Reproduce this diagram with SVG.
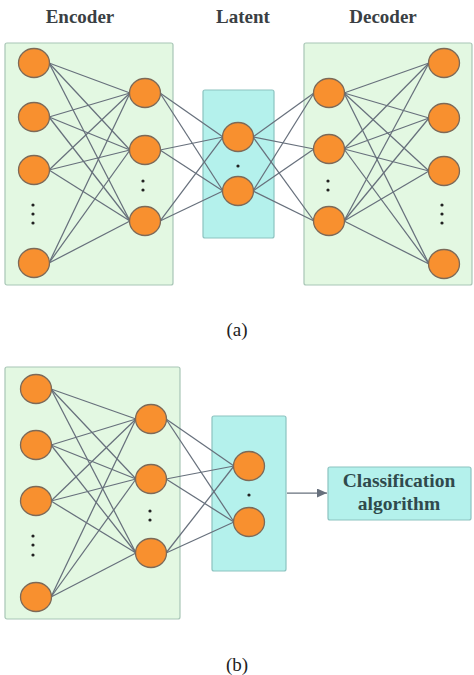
<svg xmlns="http://www.w3.org/2000/svg" width="474" height="675" viewBox="0 0 474 675">
<style>
.bg{fill:#ffffff}
.enc{fill:#e3f8e2;stroke:#a8c6b6;stroke-width:1.2}
.lat{fill:#b4f1ec;stroke:#8cc3c0;stroke-width:1.2}
.n{fill:#f8902f;stroke:#7d6a58;stroke-width:1.3}
.e line{stroke:#67707c;stroke-width:1.25}
.d{fill:#222}
.t{font-family:"Liberation Serif",serif;font-weight:bold;font-size:19px;fill:#3a3f44;text-anchor:middle}
.c{font-family:"Liberation Serif",serif;font-size:19px;fill:#222;text-anchor:middle}
.ct{font-family:"Liberation Serif",serif;font-weight:bold;font-size:19.5px;fill:#2f4a4c;text-anchor:middle}
</style>
<defs>
<marker id="ah" markerWidth="12" markerHeight="10" refX="10" refY="4.5" orient="auto" markerUnits="userSpaceOnUse">
<path d="M0,0 L10,4.5 L0,9 Z" fill="#67707c"/>
</marker>
</defs>
<rect class="bg" x="0" y="0" width="474" height="675"/>

<text class="t" x="80" y="23">Encoder</text>
<text class="t" x="243" y="23">Latent</text>
<text class="t" x="383" y="23">Decoder</text>

<g id="box-enc-a"><rect class="enc" x="5" y="43" width="168" height="242" rx="2"/></g>
<g id="box-lat-a"><rect class="lat" x="203" y="90" width="71" height="148" rx="2"/></g>
<g id="box-dec-a"><rect class="enc" x="304" y="43" width="168" height="242" rx="2"/></g>
<g id="box-enc-b"><rect class="enc" x="5" y="367" width="175" height="252" rx="2"/></g>
<g id="box-lat-b"><rect class="lat" x="212" y="416" width="74" height="155" rx="2"/></g>

<g id="connectors" class="e">
<line x1="49" y1="63" x2="130" y2="93"/><line x1="49" y1="63" x2="130" y2="150"/><line x1="49" y1="63" x2="130" y2="221"/>
<line x1="49" y1="117" x2="130" y2="93"/><line x1="49" y1="117" x2="130" y2="150"/><line x1="49" y1="117" x2="130" y2="221"/>
<line x1="49" y1="170" x2="130" y2="93"/><line x1="49" y1="170" x2="130" y2="150"/><line x1="49" y1="170" x2="130" y2="221"/>
<line x1="49" y1="263" x2="130" y2="93"/><line x1="49" y1="263" x2="130" y2="150"/><line x1="49" y1="263" x2="130" y2="221"/>
<line x1="160" y1="93" x2="223" y2="137"/><line x1="160" y1="93" x2="223" y2="191"/>
<line x1="160" y1="150" x2="223" y2="137"/><line x1="160" y1="150" x2="223" y2="191"/>
<line x1="160" y1="221" x2="223" y2="137"/><line x1="160" y1="221" x2="223" y2="191"/>
<line x1="253" y1="137" x2="314" y2="93"/><line x1="253" y1="137" x2="314" y2="149"/><line x1="253" y1="137" x2="314" y2="221"/>
<line x1="253" y1="191" x2="314" y2="93"/><line x1="253" y1="191" x2="314" y2="149"/><line x1="253" y1="191" x2="314" y2="221"/>
<line x1="344" y1="93" x2="429" y2="63"/><line x1="344" y1="93" x2="429" y2="118"/><line x1="344" y1="93" x2="429" y2="171"/><line x1="344" y1="93" x2="429" y2="264"/>
<line x1="344" y1="149" x2="429" y2="63"/><line x1="344" y1="149" x2="429" y2="118"/><line x1="344" y1="149" x2="429" y2="171"/><line x1="344" y1="149" x2="429" y2="264"/>
<line x1="344" y1="221" x2="429" y2="63"/><line x1="344" y1="221" x2="429" y2="118"/><line x1="344" y1="221" x2="429" y2="171"/><line x1="344" y1="221" x2="429" y2="264"/>
<line x1="51" y1="389" x2="136" y2="419"/><line x1="51" y1="389" x2="136" y2="479"/><line x1="51" y1="389" x2="136" y2="553"/>
<line x1="51" y1="445" x2="136" y2="419"/><line x1="51" y1="445" x2="136" y2="479"/><line x1="51" y1="445" x2="136" y2="553"/>
<line x1="51" y1="501" x2="136" y2="419"/><line x1="51" y1="501" x2="136" y2="479"/><line x1="51" y1="501" x2="136" y2="553"/>
<line x1="51" y1="597" x2="136" y2="419"/><line x1="51" y1="597" x2="136" y2="479"/><line x1="51" y1="597" x2="136" y2="553"/>
<line x1="166" y1="419" x2="234" y2="466"/><line x1="166" y1="419" x2="234" y2="522"/>
<line x1="166" y1="479" x2="234" y2="466"/><line x1="166" y1="479" x2="234" y2="522"/>
<line x1="166" y1="553" x2="234" y2="466"/><line x1="166" y1="553" x2="234" y2="522"/>
<line x1="287" y1="493" x2="327" y2="493" stroke-width="2" marker-end="url(#ah)"/>
</g>

<g id="enc-a-in">
<ellipse class="n" cx="34" cy="63" rx="15.5" ry="14.5"/>
<ellipse class="n" cx="34" cy="117" rx="15.5" ry="14.5"/>
<ellipse class="n" cx="34" cy="170" rx="15.5" ry="14.5"/>
<ellipse class="n" cx="34" cy="263" rx="15.5" ry="14.5"/>
<circle class="d" cx="33" cy="205" r="1.6"/><circle class="d" cx="33" cy="214" r="1.6"/><circle class="d" cx="33" cy="223" r="1.6"/>
</g>
<g id="enc-a-hid">
<ellipse class="n" cx="145" cy="93" rx="15.5" ry="14.5"/>
<ellipse class="n" cx="145" cy="150" rx="15.5" ry="14.5"/>
<ellipse class="n" cx="145" cy="221" rx="15.5" ry="14.5"/>
<circle class="d" cx="143" cy="181" r="1.6"/><circle class="d" cx="143" cy="190" r="1.6"/>
</g>
<g id="lat-a">
<ellipse class="n" cx="238" cy="137" rx="15.5" ry="14.5"/>
<ellipse class="n" cx="238" cy="191" rx="15.5" ry="14.5"/>
<circle class="d" cx="238" cy="166" r="1.6"/>
</g>
<g id="dec-a-hid">
<ellipse class="n" cx="329" cy="93" rx="15.5" ry="14.5"/>
<ellipse class="n" cx="329" cy="149" rx="15.5" ry="14.5"/>
<ellipse class="n" cx="329" cy="221" rx="15.5" ry="14.5"/>
<circle class="d" cx="328" cy="181" r="1.6"/><circle class="d" cx="328" cy="190" r="1.6"/>
</g>
<g id="dec-a-out">
<ellipse class="n" cx="444" cy="63" rx="15.5" ry="14.5"/>
<ellipse class="n" cx="444" cy="118" rx="15.5" ry="14.5"/>
<ellipse class="n" cx="444" cy="171" rx="15.5" ry="14.5"/>
<ellipse class="n" cx="444" cy="264" rx="15.5" ry="14.5"/>
<circle class="d" cx="442" cy="205" r="1.6"/><circle class="d" cx="442" cy="214" r="1.6"/><circle class="d" cx="442" cy="223" r="1.6"/>
</g>

<text class="c" x="237" y="336">(a)</text>

<g id="enc-b-in">
<ellipse class="n" cx="36" cy="389" rx="15.5" ry="14.5"/>
<ellipse class="n" cx="36" cy="445" rx="15.5" ry="14.5"/>
<ellipse class="n" cx="36" cy="501" rx="15.5" ry="14.5"/>
<ellipse class="n" cx="36" cy="597" rx="15.5" ry="14.5"/>
<circle class="d" cx="33" cy="536" r="1.6"/><circle class="d" cx="33" cy="545" r="1.6"/><circle class="d" cx="33" cy="555" r="1.6"/>
</g>
<g id="enc-b-hid">
<ellipse class="n" cx="151" cy="419" rx="15.5" ry="14.5"/>
<ellipse class="n" cx="151" cy="479" rx="15.5" ry="14.5"/>
<ellipse class="n" cx="151" cy="553" rx="15.5" ry="14.5"/>
<circle class="d" cx="150" cy="511" r="1.6"/><circle class="d" cx="150" cy="520" r="1.6"/>
</g>
<g id="lat-b">
<ellipse class="n" cx="249" cy="466" rx="15.5" ry="14.5"/>
<ellipse class="n" cx="249" cy="522" rx="15.5" ry="14.5"/>
<circle class="d" cx="249" cy="495" r="1.6"/>
</g>
<g id="classifier">
<rect class="lat" x="328" y="467" width="143" height="53" rx="2"/>
<text class="ct" x="399" y="487">Classification</text>
<text class="ct" x="399" y="510">algorithm</text>
</g>

<text class="c" x="237" y="671">(b)</text>
</svg>
